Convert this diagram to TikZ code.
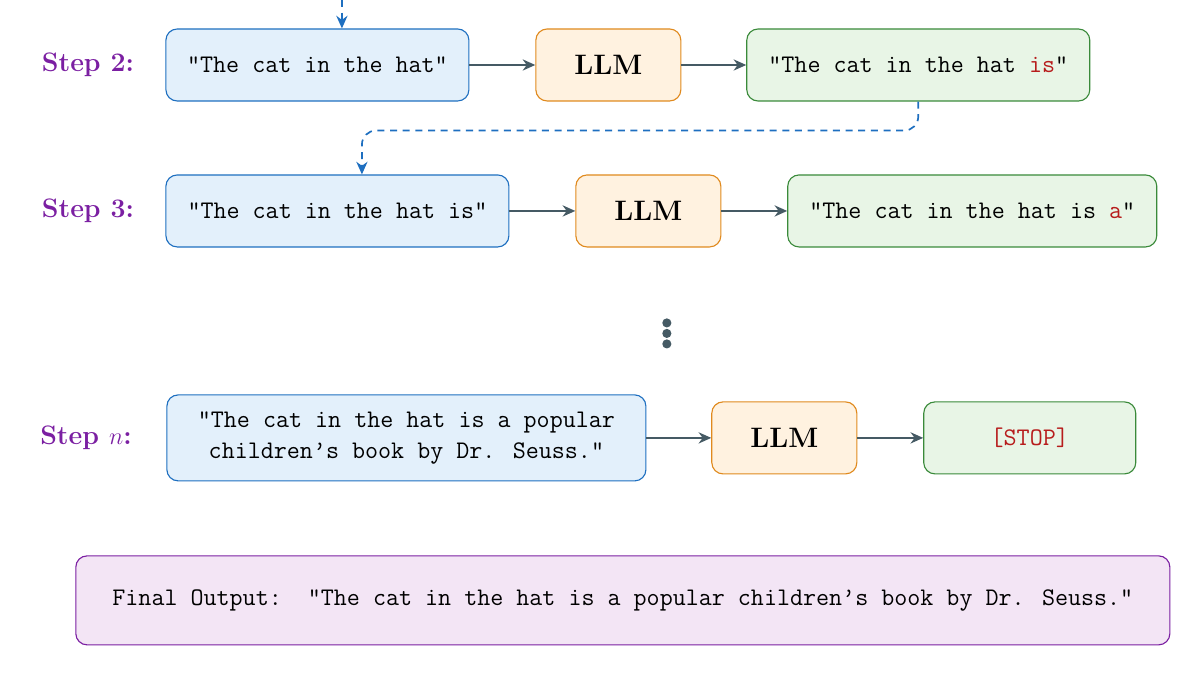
\documentclass[tikz,border=0pt]{standalone}
\usetikzlibrary{arrows.meta}
\definecolor{bfill}{HTML}{E3F0FB}\definecolor{bdraw}{HTML}{1E6FC0}
\definecolor{ofill}{HTML}{FFF2E0}\definecolor{odraw}{HTML}{E08A1E}
\definecolor{gfill}{HTML}{E8F5E6}\definecolor{gdraw}{HTML}{3A8A3A}
\definecolor{pfill}{HTML}{F3E5F5}\definecolor{pdraw}{HTML}{7B1FA2}
\definecolor{arr}{HTML}{455A64}\definecolor{red}{HTML}{B71C1C}
\definecolor{steplbl}{HTML}{7B1FA2}
\tikzset{
 px/.style={x=0.025cm,y=-0.025cm},
 box/.style={rounded corners=8pt,line width=0.8pt,inner sep=0pt,font=\fontsize{18}{22}\selectfont\ttfamily,align=center},
 inbox/.style={box,fill=bfill,draw=bdraw},
 llm/.style={box,fill=ofill,draw=odraw,font=\fontsize{20}{24}\selectfont\bfseries},
 outbox/.style={box,fill=gfill,draw=gdraw},
 fin/.style={box,fill=pfill,draw=pdraw},
 conn/.style={draw=arr,line width=1.2pt,-{Stealth[length=9pt,width=8pt]}},
 dconn/.style={draw=bdraw,line width=1.2pt,dashed,dash pattern=on 5pt off 4pt,-{Stealth[length=9pt,width=8pt]},rounded corners=10pt},
 lbl/.style={font=\fontsize{19}{22}\selectfont\bfseries,text=steplbl}
}
\begin{document}
\begin{tikzpicture}
\useasboundingbox (0,0) rectangle (30,-16.875);
\begin{scope}[px]
\coordinate (top) at (342,0);
\coordinate (x3) at (362,0);
\node[inbox,minimum width=7.575cm,minimum height=1.8cm] (a2) at (317.5,65) {"The cat in the hat"};
\node[llm,minimum width=3.625cm,minimum height=1.8cm] (l2) at (608.5,65) {LLM};
\node[outbox,minimum width=8.575cm,minimum height=1.8cm] (o2) at (918.5,65) {"The cat in the hat \textcolor{red}{is}"};
\node[lbl] (s2) at (88,65) {Step 2:};
\node[inbox,minimum width=8.575cm,minimum height=1.8cm] (a3) at (337.5,211) {"The cat in the hat is"};
\node[llm,minimum width=3.625cm,minimum height=1.8cm] (l3) at (648.5,211) {LLM};
\node[outbox,minimum width=9.225cm,minimum height=1.8cm] (o3) at (972.5,211) {"The cat in the hat is \textcolor{red}{a}"};
\node[lbl] (s3) at (88,211) {Step 3:};
\node[inbox,minimum width=11.975cm,minimum height=2.15cm] (an) at (406.5,438) {"The cat in the hat is a popular\\children’s book by Dr. Seuss."};
\node[llm,minimum width=3.625cm,minimum height=1.8cm] (ln) at (784.5,438) {LLM};
\node[outbox,minimum width=5.3cm,minimum height=1.8cm] (on) at (1030,438) {\textcolor{red}{[STOP]}};
\node[lbl] (sn) at (86,438) {Step $n$:};
\node[fin,minimum width=27.35cm,minimum height=2.225cm] (f) at (623,600.5) {Final Output:~~"The cat in the hat is a popular children’s book by Dr. Seuss."};
\foreach \y [count=\i] in {323,333.5,344} \node[circle,fill=arr,inner sep=0pt,minimum size=6.5pt] (d\i) at (667,\y) {};
\draw[conn] (a2) -- (l2); \draw[conn] (l2) -- (o2);
\draw[conn] (a3) -- (l3); \draw[conn] (l3) -- (o3);
\draw[conn] (an) -- (ln); \draw[conn] (ln) -- (on);
\draw[dconn] (top) -- (a2.north -| top);
\draw[dconn] (o2.south) -- ++(0,29) -| (a3.north -| x3);
\end{scope}
\end{tikzpicture}
\end{document}
